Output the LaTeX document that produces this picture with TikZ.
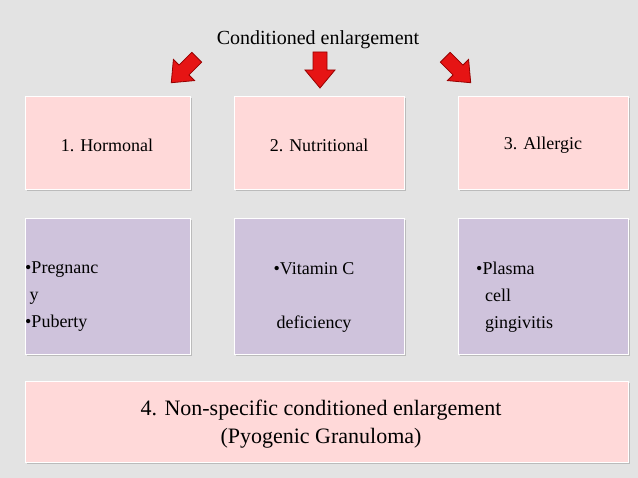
\documentclass[tikz,border=0pt]{standalone}
\usepackage{fontspec}
\setmainfont{Liberation Serif}
\usetikzlibrary{shadows}
\begin{document}
\begin{tikzpicture}[x=1pt,y=-1pt,
  pinkbox/.style={draw=white,line width=0.8pt,fill=pink!60!white,drop shadow={shadow xshift=2pt,shadow yshift=-2pt,opacity=0.4}},
  purpbox/.style={draw=white,line width=0.8pt,fill={rgb,255:red,207;green,195;blue,220},drop shadow={shadow xshift=2pt,shadow yshift=-2pt,opacity=0.4}},
  redarr/.style={draw={rgb,255:red,150;green,0;blue,0},fill={rgb,255:red,230;green,20;blue,20},line width=0.8pt,line join=miter}]
\fill[gray!22] (0,0) rectangle (638,478);
\useasboundingbox (0,0) rectangle (638,478);
\node[font=\fontsize{20}{24}\selectfont] (title) at (318,40) {Conditioned enlargement};
\foreach \x/\y/\r in {184/70/-45,320/70/0,458/70/45}{
  \path[redarr,shift={(\x,\y)},rotate=\r] (-7,-18) -- (7,-18) -- (7,0) -- (15,0) -- (0,18) -- (-15,0) -- (-7,0) -- cycle;
}
\path[pinkbox] (25,96) rectangle (190,189);
\path[pinkbox] (234,96) rectangle (404,189);
\path[pinkbox] (458,96) rectangle (628,189);
\node[font=\fontsize{18}{22}\selectfont] (b1) at (107,145) {1. Hormonal};
\node[font=\fontsize{18}{22}\selectfont] (b2) at (319,145) {2. Nutritional};
\node[font=\fontsize{18}{22}\selectfont] (b3) at (543,145) {3. Allergic};
\path[purpbox] (25,218) rectangle (190,354);
\path[purpbox] (234,218) rectangle (404,354);
\path[purpbox] (458,218) rectangle (628,354);
\node[anchor=north west,align=left,inner sep=0pt,font=\fontsize{18}{27}\selectfont] (c1) at (25,262) {•Pregnanc\\\ y\\•Puberty};
\node[anchor=north,align=center,inner sep=0pt,font=\fontsize{18}{27}\selectfont] (c2) at (314,262) {•Vitamin C\\[27pt] deficiency};
\node[anchor=north west,align=left,inner sep=0pt,font=\fontsize{18}{27}\selectfont] (c3) at (476,262) {•Plasma\\\hspace*{9pt}cell\\\hspace*{9pt}gingivitis};
\path[pinkbox] (25,381) rectangle (628,462);
\node[align=center,font=\fontsize{22}{28}\selectfont] (d) at (321,424) {4. Non-specific conditioned enlargement\\(Pyogenic Granuloma)};
\end{tikzpicture}
\end{document}
